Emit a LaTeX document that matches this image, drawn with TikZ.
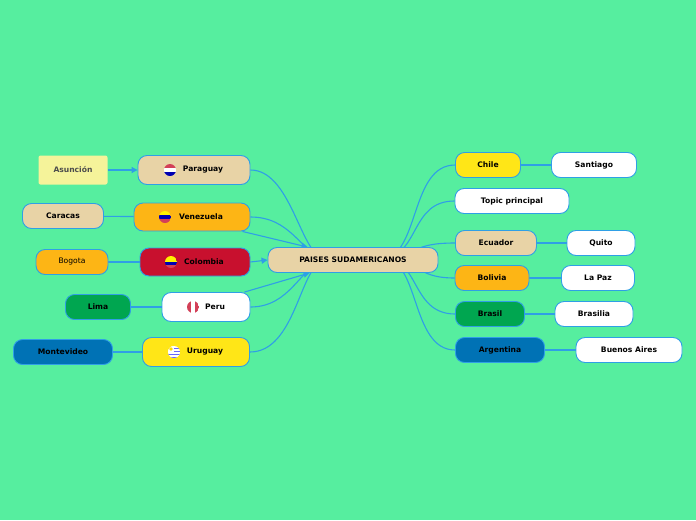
\documentclass[tikz,border=0pt]{standalone}
\usepackage{fontspec}
\setmainfont{DejaVu Sans}
\usetikzlibrary{arrows.meta,calc,backgrounds}
\definecolor{bg}{HTML}{56EE9F}
\definecolor{ln}{HTML}{2F9FE6}
\definecolor{tan}{HTML}{E8D3A6}
\definecolor{org}{HTML}{FDB515}
\definecolor{red}{HTML}{C8102E}
\definecolor{yel}{HTML}{FFE617}
\definecolor{grn}{HTML}{00A650}
\definecolor{blu}{HTML}{0072B5}
\definecolor{pyel}{HTML}{F5F39A}
\tikzset{
 box/.style={draw=ln,line width=0.9pt,rounded corners=9pt,minimum height=25pt,font=\bfseries\fontsize{7.6}{9}\selectfont,inner sep=0pt},
 cn/.style={draw=ln,line width=1.1pt},
 ar/.style={cn,-{Triangle[length=6pt,width=6pt]}}
}
\newcommand{\flagc}[4]{\begin{scope}\clip (#1) circle (6pt);
\fill[#2] ($(#1)+(-6pt,2pt)$) rectangle ($(#1)+(6pt,6pt)$);
\fill[#3] ($(#1)+(-6pt,-2pt)$) rectangle ($(#1)+(6pt,2pt)$);
\fill[#4] ($(#1)+(-6pt,-6pt)$) rectangle ($(#1)+(6pt,-2pt)$);\end{scope}}
\begin{document}
\begin{tikzpicture}[x=1pt,y=-1pt]
\node[box,fill=tan,minimum width=170pt] (c) at (353,260) {PAISES SUDAMERICANOS};
\node[box,fill=tan,minimum width=112pt,minimum height=29pt] (par) at (194,170) {\hspace{18pt}Paraguay};
\node[box,fill=org,minimum width=116pt,minimum height=28pt] (ven) at (192,217) {\hspace{18pt}Venezuela};
\node[box,fill=red,minimum width=110pt,minimum height=28pt] (col) at (195,262) {\hspace{18pt}Colombia};
\node[box,fill=white,minimum width=88pt,minimum height=29pt] (per) at (206,307) {\hspace{18pt}Peru};
\node[box,fill=yel,minimum width=107pt,minimum height=29pt] (uru) at (196,352) {\hspace{18pt}Uruguay};
\node[rounded corners=2pt,fill=pyel,minimum width=69pt,minimum height=29pt,font=\bfseries\fontsize{7.6}{9}\selectfont,text=black!70] (asu) at (73,170) {Asunción};
\node[box,fill=tan,minimum width=81pt] (car) at (63,216) {Caracas};
\node[box,fill=org,minimum width=72pt,font=\fontsize{7.6}{9}\selectfont] (bog) at (72,262) {Bogota};
\node[box,fill=grn,minimum width=65pt] (lim) at (98,307) {Lima};
\node[box,fill=blu,minimum width=99pt] (mon) at (63,352) {Montevideo};
\node[box,fill=yel,minimum width=65pt] (chi) at (488,165) {Chile};
\node[box,fill=white,minimum width=114pt] (top) at (512,201) {Topic principal};
\node[box,fill=tan,minimum width=81pt] (ecu) at (496,243) {Ecuador};
\node[box,fill=org,minimum width=74pt] (bol) at (492,278) {Bolivia};
\node[box,fill=grn,minimum width=69pt] (bra) at (490,314) {Brasil};
\node[box,fill=blu,minimum width=89pt] (arg) at (500,350) {Argentina};
\node[box,fill=white,minimum width=85pt] (san) at (594,165) {Santiago};
\node[box,fill=white,minimum width=68pt] (qui) at (601,243) {Quito};
\node[box,fill=white,minimum width=73pt] (lap) at (598,278) {La Paz};
\node[box,fill=white,minimum width=78pt] (bsl) at (594,314) {Brasilia};
\node[box,fill=white,minimum width=106pt] (bue) at (629,350) {Buenos Aires};
% flags
\flagc{170,170}{red!80}{white}{blue!70!black}
\flagc{165,217}{yellow}{blue!70!black}{red!80}
\begin{scope}\clip (171,262) circle (6pt);
\fill[yellow] (165,256) rectangle (177,262);\fill[blue!70!black] (165,262) rectangle (177,265);\fill[red!80] (165,265) rectangle (177,268);\end{scope}
\begin{scope}\clip (193,307) circle (6pt);
\fill[red!80] (187,301) rectangle (191,313);\fill[white] (191,301) rectangle (195,313);\fill[red!80] (195,301) rectangle (199,313);\end{scope}
\begin{scope}\clip (174,352) circle (6pt);
\fill[white] (168,346) rectangle (180,358);
\foreach \yy in {347.5,350.5,353.5,356.5} \fill[blue!60] (168,\yy) rectangle (180,\yy+1.3);
\fill[white] (168,346) rectangle (174,352);\fill[yellow!80!orange] (171,349) circle (1.8pt);\end{scope}
\begin{scope}[on background layer]
\fill[bg] (0,0) rectangle (696,520);
\draw[cn] (par.east) .. controls (290,170) and (300,250) .. (322,258);
\draw[cn] (ven.east) .. controls (290,217) and (300,250) .. (322,258);
\draw[cn] (per.east) .. controls (290,307) and (300,268) .. (322,262);
\draw[cn] (uru.east) .. controls (295,352) and (300,268) .. (322,262);
\draw[ar] (col.east) -- (c.west);
\draw[ar] ($(ven.south east)+(-8,0)$) -- ($(c.north west)+(40,0)$);
\draw[ar] ($(per.north east)+(-6,0)$) -- ($(c.south west)+(42,0)$);
\foreach \n in {chi,top,ecu,bol,bra,arg}
  \draw[cn] (382,260) .. controls (420,255) and (410,0|-\n.west) .. (\n.west);
\draw[cn] (chi) -- (san); \draw[cn] (ecu) -- (qui); \draw[cn] (bol) -- (lap);
\draw[cn] (bra) -- (bsl); \draw[cn] (arg) -- (bue);
\draw[cn] (car) -- (ven); \draw[cn] (bog) -- (col); \draw[cn] (lim) -- (per); \draw[cn] (mon) -- (uru);
\draw[ar] (asu) -- (par);
\end{scope}
\end{tikzpicture}
\end{document}
